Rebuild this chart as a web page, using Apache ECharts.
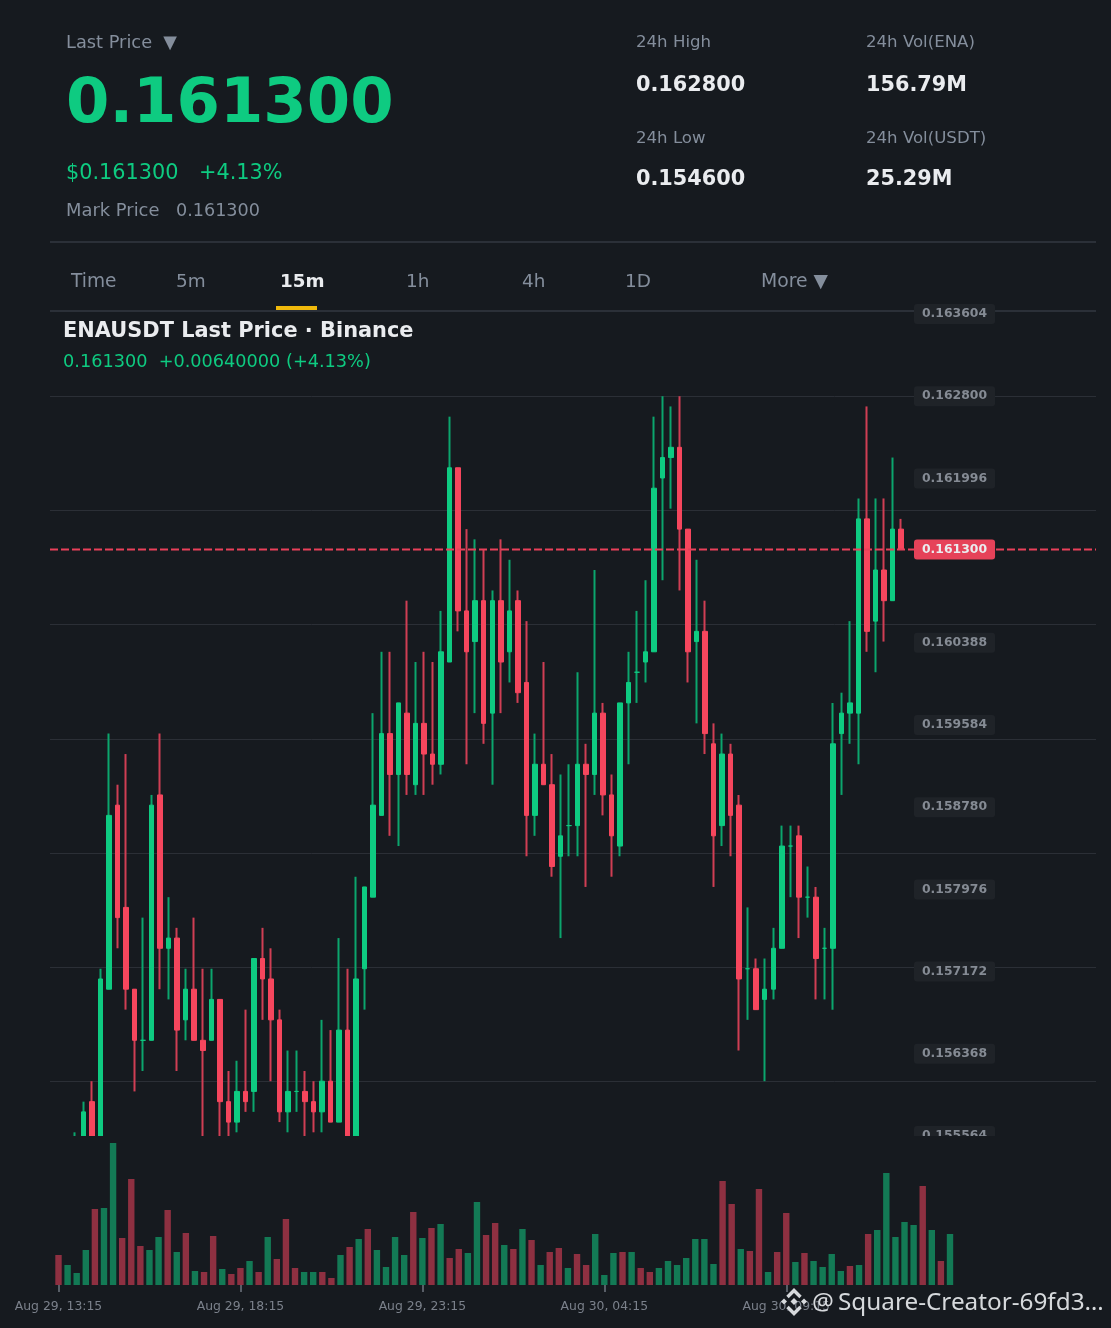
<!DOCTYPE html>
<html><head><meta charset="utf-8">
<style>html,body{margin:0;padding:0;background:#161a1f}#c{width:1111px;height:1328px}</style>
<script src="https://cdn.jsdelivr.net/npm/echarts@6/dist/echarts.min.js"></script></head>
<body><div id="c"></div>
<script>
const opens=[.1552,.1548,.1550,.1553,.1559,.1553,.1570,.1588,.1578,.1570,.1565,.1565,.1589,.1574,.1575,.1567,.1570,.1565,.1565,.1569,.1559,.1557,.1560,.1560,.1573,.1571,.1567,.1558,.1560,.1560,.1559,.1558,.1561,.1557,.1566,.1554,.1572,.1579,.1587,.1595,.1591,.1597,.1590,.1596,.1593,.1592,.1602,.1621,.1607,.1604,.1608,.1597,.1608,.1603,.1608,.1600,.1587,.1592,.1590,.1583,.1586,.1586,.1592,.1591,.1597,.1589,.1584,.1598,.1601,.1602,.1603,.1620,.1622,.1623,.1615,.1604,.1605,.1594,.1586,.1593,.1588,.1572,.1572,.1569,.1570,.1574,.1584,.1585,.1579,.1579,.1574,.1574,.1595,.1597,.1597,.1616,.1606,.1611,.1608,.1615];
const closes=[.1550,.1551,.1554,.1558,.1553,.1571,.1587,.1577,.1570,.1565,.1565,.1588,.1574,.1575,.1566,.1570,.1565,.1564,.1569,.1559,.1557,.1560,.1559,.1573,.1571,.1567,.1558,.1560,.1560,.1559,.1558,.1561,.1557,.1566,.1554,.1571,.1580,.1588,.1595,.1591,.1598,.1591,.1596,.1593,.1592,.1603,.1621,.1607,.1603,.1608,.1596,.1608,.1602,.1607,.1599,.1587,.1592,.1590,.1582,.1585,.1586,.1592,.1591,.1597,.1589,.1585,.1598,.1600,.1601,.1603,.1619,.1622,.1623,.1615,.1603,.1605,.1595,.1585,.1593,.1587,.1571,.1572,.1568,.1570,.1574,.1584,.1584,.1579,.1579,.1573,.1574,.1594,.1597,.1598,.1616,.1605,.1611,.1608,.1615,.1613];
const lows=[.1548,.1546,.1549,.1552,.1552,.1552,.1570,.1574,.1568,.1560,.1562,.1565,.1570,.1569,.1562,.1565,.1565,.1555,.1565,.1555,.1555,.1556,.1558,.1558,.1567,.1561,.1557,.1556,.1558,.1555,.1556,.1556,.1557,.1557,.1552,.1554,.1568,.1579,.1587,.1585,.1584,.1589,.1589,.1589,.1590,.1591,.1602,.1605,.1592,.1597,.1594,.1590,.1597,.1600,.1598,.1583,.1585,.1590,.1581,.1575,.1583,.1583,.1580,.1589,.1587,.1581,.1583,.1592,.1598,.1600,.1603,.1610,.1617,.1609,.1600,.1596,.1593,.1580,.1584,.1583,.1564,.1567,.1568,.1561,.1569,.1574,.1579,.1575,.1577,.1569,.1569,.1568,.1589,.1594,.1592,.1603,.1601,.1604,.1608,.1613];
const highs=[.1554,.1553,.1556,.1559,.1561,.1572,.1595,.1590,.1593,.1570,.1577,.1589,.1595,.1579,.1576,.1572,.1577,.1572,.1572,.1569,.1562,.1563,.1568,.1573,.1576,.1574,.1568,.1564,.1564,.1562,.1561,.1567,.1566,.1575,.1572,.1581,.1580,.1597,.1603,.1603,.1598,.1608,.1602,.1603,.1602,.1607,.1626,.1621,.1615,.1614,.1613,.1609,.1614,.1612,.1609,.1606,.1595,.1602,.1593,.1591,.1592,.1601,.1594,.1611,.1598,.1591,.1598,.1603,.1607,.1610,.1626,.1628,.1627,.1628,.1615,.1612,.1608,.1596,.1595,.1594,.1589,.1578,.1573,.1573,.1576,.1586,.1586,.1586,.1582,.1580,.1576,.1598,.1599,.1606,.1618,.1627,.1618,.1618,.1622,.1616];
const volumes=[90,60,36,105,228,231,426,141,318,117,105,144,225,99,156,42,39,147,48,33,51,72,39,144,78,198,51,39,39,39,21,90,114,138,168,105,54,144,90,219,141,171,183,81,108,96,249,150,186,120,108,168,135,60,99,111,51,93,60,153,30,96,99,99,51,39,51,72,60,81,138,138,63,312,243,108,102,288,39,99,216,69,96,72,54,93,42,57,60,153,165,336,144,189,180,297,165,72,153];
const priceTicks=[0.163604,0.1628,0.161996,0.160388,0.159584,0.15878,0.157976,0.157172,0.156368,0.155564];
const gridPrices=[0.1628,0.161683,0.160566,0.159449,0.158332,0.157215,0.156098];
const lastPrice=0.1613;
const timeLabels=['Aug 29, 13:15','Aug 29, 18:15','Aug 29, 23:15','Aug 30, 04:15','Aug 30, 09:15'];
const GREEN='#0ecb81',RED='#f6465d',MUTED='#848e9c',WHITE='#eaecef',BG='#161a1f',LINE='#2b2f36';
const FONT='"DejaVu Sans"';
const volCats=volumes.map((_,i)=>i%20===0?timeLabels[i/20]:String(i));
const candleCats=opens.map((_,i)=>String(i));
const wickData=opens.map((o,i)=>[o,closes[i],lows[i],highs[i]]);
const bodyData=opens.map((o,i)=>[o,closes[i],Math.min(o,closes[i]),Math.max(o,closes[i])]);
const isUp=i=>closes[i]>opens[i]||(closes[i]===opens[i]&&(i===0||closes[i-1]<=closes[i]));
function t(text,x,y,size,fill,weight,family){
  return {type:'text',z:50,silent:true,x:x,y:y,style:{text:text,fill:fill,fontSize:size,fontWeight:weight||'normal',fontFamily:family||FONT,verticalAlign:'middle',align:'left'}};
}
function rule(y){return {type:'rect',z:1,silent:true,shape:{x:50,y:y,width:1046,height:2},style:{fill:'#2b3038'}};}
function diamond(cx,cy,r){return {type:'polygon',z:61,silent:true,shape:{points:[[cx,cy-r],[cx+r,cy],[cx,cy+r],[cx-r,cy]]},style:{fill:'#d6d9dc'}};}
function chevron(cx,cy,dir){
  const s=dir;
  return {type:'polyline',z:61,silent:true,shape:{points:[[cx-6.5,cy+s*6.5],[cx,cy],[cx+6.5,cy+s*6.5]]},style:{stroke:'#d6d9dc',lineWidth:3.4,fill:'none'}};
}
const graphics=[
  t('Last Price  ▼',66,43,17.8,MUTED),
  t('0.161300',66,106,62.4,GREEN,'bold'),
  t('$0.161300',66,174,20.8,GREEN),
  t('+4.13%',199,174,20.8,GREEN),
  t('Mark Price',66,211,17.9,MUTED),
  t('0.161300',176,211,17.6,MUTED),
  t('24h High',636,43,16.6,MUTED),
  t('0.162800',636,86,20.8,WHITE,'bold'),
  t('24h Vol(ENA)',866,43,16.6,MUTED),
  t('156.79M',866,86,20.8,WHITE,'bold'),
  t('24h Low',636,139,16.6,MUTED),
  t('0.154600',636,180,20.8,WHITE,'bold'),
  t('24h Vol(USDT)',866,139,16.6,MUTED),
  t('25.29M',866,180,20.8,WHITE,'bold'),
  rule(241),rule(310),
  t('Time',71,282,18.6,MUTED),t('5m',176,282,18.4,MUTED),t('15m',280,282,18.3,WHITE,'bold'),
  t('1h',406,282,18.4,MUTED),t('4h',522,282,18.4,MUTED),t('1D',625,282,18.4,MUTED),t('More ▼',761,282,18.8,MUTED),
  {type:'rect',z:2,silent:true,shape:{x:276,y:306,width:41,height:4},style:{fill:'#f0b90b'}},
  t('ENAUSDT Last Price · Binance',63,332,20.9,WHITE,'bold'),
  t('0.161300  +0.00640000 (+4.13%)',63,362,17.7,GREEN),
  {type:'rect',z:4,silent:true,shape:{x:50,y:1136,width:860,height:149},style:{fill:BG}},
  {type:'rect',z:40,silent:true,shape:{x:905,y:1136,width:100,height:10},style:{fill:BG}},
  chevron(794,1290.5,1),chevron(794,1313.5,-1),
  diamond(794,1301.5,3.5),diamond(784,1301.5,3),diamond(804,1301.5,3),
  t('@',812,1303,24.3,'#d6d9dc','normal','"Noto Sans"'),
  t('Square-Creator-69fd3…',838,1303,24.3,'#d6d9dc','normal','"Noto Sans"')
];
const yLabelBase={formatter:v=>v.toFixed(6),align:'left',margin:0,fontSize:12.4,fontWeight:'bold',fontFamily:FONT,padding:[4,8,4,8],borderRadius:3};
const option={
  backgroundColor:BG,animation:false,
  textStyle:{fontFamily:FONT},
  graphic:graphics,
  grid:[
    {left:50,width:1046,top:314,height:822},
    {left:53.74,width:851.5,top:314,height:822},
    {left:53.95,width:900.6,top:1143,height:142}
  ],
  xAxis:[
    {gridIndex:0,type:'value',min:0,max:1,show:false},
    {gridIndex:1,type:'category',data:candleCats,show:false},
    {gridIndex:2,type:'category',data:volCats,
      axisLine:{show:false},
      axisTick:{show:true,alignWithLabel:true,length:7,interval:i=>i%20===0,lineStyle:{color:'#6f7580',width:1.5}},
      axisLabel:{interval:i=>i%20===0,color:'#7b818b',fontSize:12.4,margin:16,fontFamily:FONT}}
  ],
  yAxis:[
    {gridIndex:0,type:'value',min:0.155564,max:0.163604,position:'right',z:1,
      axisLine:{show:false},axisLabel:{show:false},
      axisTick:{show:false,customValues:gridPrices},
      splitLine:{show:true,lineStyle:{color:LINE,width:1}}},
    {gridIndex:0,type:'value',min:0.155564,max:0.163604,position:'right',offset:-182,z:10,
      axisLine:{show:false},axisTick:{show:false},splitLine:{show:false},
      axisLabel:Object.assign({customValues:priceTicks,color:'#858b94',backgroundColor:'#1f2328'},yLabelBase)},
    {gridIndex:0,type:'value',min:0.155564,max:0.163604,position:'right',offset:-182,z:11,
      axisLine:{show:false},axisTick:{show:false},splitLine:{show:false},
      axisLabel:Object.assign({customValues:[lastPrice],color:'#eaecef',backgroundColor:'#e64259'},yLabelBase)},
    {gridIndex:1,type:'value',min:0.155564,max:0.163604,show:false},
    {gridIndex:2,type:'value',min:0,max:426,show:false}
  ],
  series:[
    {name:'wicks',type:'candlestick',xAxisIndex:1,yAxisIndex:3,z:2,barWidth:1,silent:true,data:wickData,
      itemStyle:{color:'#0ba56d',color0:'#d03e54',borderColor:'#0ba56d',borderColor0:'#d03e54',borderColorDoji:'#0ba56d',borderWidth:2}},
    {name:'bodies',type:'candlestick',xAxisIndex:1,yAxisIndex:3,z:3,barWidth:5,silent:true,data:bodyData,
      itemStyle:{color:GREEN,color0:RED,borderColor:GREEN,borderColor0:RED,borderColorDoji:GREEN,borderWidth:1}},
    {name:'last',type:'line',xAxisIndex:0,yAxisIndex:0,z:5,silent:true,symbol:'none',data:[[0,lastPrice],[1,lastPrice]],
      lineStyle:{color:'#e8405a',width:2,type:[8,3]}},
    {name:'volume',type:'bar',xAxisIndex:2,yAxisIndex:4,z:5,barWidth:6.4,silent:true,data:volumes,
      itemStyle:{color:p=>isUp(p.dataIndex)?'#137a55':'#8e3041'}}
  ]
};
echarts.init(document.getElementById('c')).setOption(option);
</script></body></html>
